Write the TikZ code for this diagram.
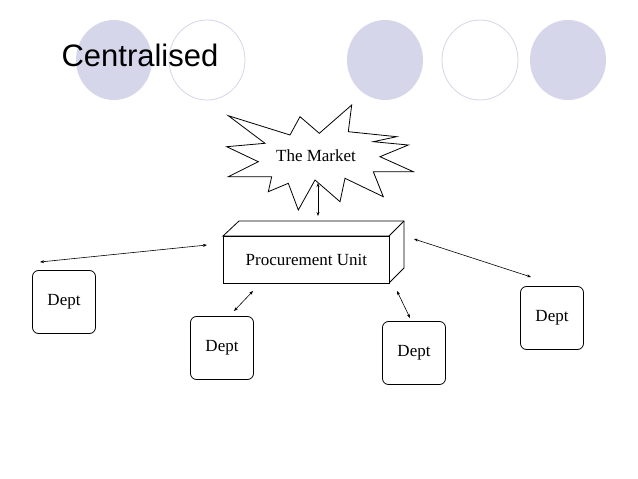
\documentclass[tikz,border=0pt]{standalone}
\usepackage{fontspec}
\setmainfont{Liberation Serif}
\newfontfamily\titlefont{Liberation Sans}
\usetikzlibrary{arrows.meta}
\definecolor{lav}{RGB}{214,214,235}
\begin{document}
\begin{tikzpicture}[x=1pt,y=-1pt,
  lbl/.style={font=\fontsize{17}{20}\selectfont},
  dept/.style={draw,rounded corners=6pt,minimum width=63pt,minimum height=63pt,lbl,line width=0.8pt},
  conn/.style={{Stealth[length=4pt,width=3pt]}-{Stealth[length=4pt,width=3pt]},line width=0.6pt}]
\useasboundingbox[fill=white] (0,0) rectangle (638,479);
\fill[lav] (114,60) ellipse[x radius=38,y radius=40];
\draw[lav,line width=0.8pt] (207,60) ellipse[x radius=38,y radius=40];
\fill[lav] (385,60) ellipse[x radius=38,y radius=40];
\draw[lav,line width=0.8pt] (480,60) ellipse[x radius=38,y radius=40];
\fill[lav] (568,60) ellipse[x radius=38,y radius=40];
\node[anchor=west,font=\titlefont\fontsize{31}{34}\selectfont] (title) at (58,55) {Centralised};
% starburst
\draw[line width=0.8pt,fill=white] (228.3,115.7) -- (290,135) -- (300,116.7) -- (319.3,133.3) -- (351.7,105) -- (348.3,131.7) -- (396.7,136.7) -- (373.3,141.7) -- (408.3,145) -- (380,156.7) -- (413.3,171.7) -- (373.3,171.7) -- (383.3,196.7) -- (345,178.3) -- (340,201.7) -- (315,180) -- (298.3,210) -- (288.3,183.3) -- (268.3,191.7) -- (271.7,176.7) -- (228.3,176.7) -- (258.3,161.7) -- (226.7,146.7) -- (265,143.3) -- cycle;
\node[lbl] (mkt) at (316,156) {The Market};
% box
\draw[line width=0.8pt,fill=white] (223,236) -- (239,221) -- (404,221) -- (404,268) -- (389,283) -- (389,236) -- cycle;
\draw[line width=0.8pt] (389,236) -- (404,221);
\node[draw,line width=0.8pt,minimum width=166pt,minimum height=47pt,lbl,anchor=north west,fill=white] (pu) at (223,236) {Procurement Unit};
\node[dept] (d1) at (64,302) {Dept};
\node[dept] (d2) at (222,348) {Dept};
\node[dept] (d3) at (414,353) {Dept};
\node[dept] (d4) at (552,318) {Dept};
\coordinate (m1) at (318,183); \coordinate (m2) at (318,216);
\coordinate (a1) at (40,262); \coordinate (a2) at (207,245);
\coordinate (b1) at (234,311); \coordinate (b2) at (253,291);
\coordinate (c1) at (397,291); \coordinate (c2) at (410,318);
\coordinate (e1) at (414,239); \coordinate (e2) at (531,277);
\draw[conn] (m1) -- (m2);
\draw[conn] (a1) -- (a2);
\draw[conn] (b1) -- (b2);
\draw[conn] (c1) -- (c2);
\draw[conn] (e1) -- (e2);
\end{tikzpicture}
\end{document}
